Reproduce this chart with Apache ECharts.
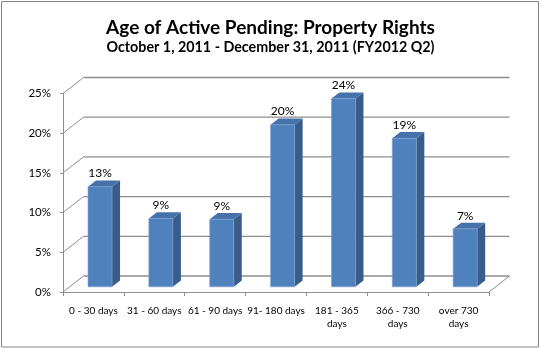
<!DOCTYPE html>
<html>
<head>
<meta charset="utf-8">
<script src="https://cdn.jsdelivr.net/npm/echarts@6/dist/echarts.min.js"></script>
<style>
html,body{margin:0;padding:0;background:#fff;}
#chart{width:541px;height:349px;}
</style>
</head>
<body>
<div id="chart"></div>
<script>
const titleText = 'Age of Active Pending: Property Rights';
const subtitleText = 'October 1, 2011 - December 31, 2011 (FY2012 Q2)';
const categories = ['0 - 30 days', '31 - 60 days', '61 - 90 days', '91- 180 days', '181 - 365\ndays', '366 - 730\ndays', 'over 730\ndays'];
const values = [12.6, 8.6, 8.5, 20.4, 23.7, 18.7, 7.3];
const yTicks = [0, 5, 10, 15, 20, 25];

const FONT = 'Lato, Carlito, "Noto Sans", sans-serif';
// depth geometry (pixels)
const WALL_DX = 20.5, WALL_DY = -16;     // back wall offset
const BAR_DX0 = 6.6, BAR_DY0 = -5.2;     // bar front-face offset
const BAR_DX = 8, BAR_DY = -6.2;         // bar depth
const GRID_COLOR = '#8e8e8e';

const chart = echarts.init(document.getElementById('chart'), null, {renderer: 'canvas'});

const option = {
  backgroundColor: '#fff',
  animation: false,
  title: {
    text: titleText,
    subtext: subtitleText,
    left: 'center',
    top: 13,
    itemGap: 3,
    textStyle: {fontFamily: FONT, fontWeight: 'bold', fontSize: 19, color: '#000'},
    subtextStyle: {fontFamily: FONT, fontWeight: 'bold', fontSize: 14.3, color: '#000'}
  },
  graphic: [{
    type: 'rect',
    shape: {x: 1.5, y: 1.5, width: 537, height: 345.5},
    style: {fill: 'none', stroke: '#868686', lineWidth: 1},
    silent: true, z: -1
  }],
  grid: {left: 63, top: 93.5, width: 426, height: 198.5},
  xAxis: {
    type: 'category',
    data: categories,
    boundaryGap: true,
    axisLine: {lineStyle: {color: GRID_COLOR, width: 1}},
    axisTick: {show: true, length: 4, lineStyle: {color: GRID_COLOR}},
    axisLabel: {
      interval: 0, margin: 12.5, fontFamily: FONT, fontSize: 10, color: '#000', lineHeight: 13
    }
  },
  yAxis: {
    type: 'value',
    min: 0, max: 25, interval: 5,
    axisLine: {show: true, lineStyle: {color: GRID_COLOR, width: 1}},
    axisTick: {show: true, length: 3, lineStyle: {color: GRID_COLOR}},
    splitLine: {show: false},
    axisLabel: {formatter: '{value}%', margin: 12, fontFamily: FONT, fontSize: 11.5, color: '#000'}
  },
  series: [
    {
      type: 'custom',
      name: 'walls',
      silent: true,
      z: 1,
      data: yTicks.map(v => [0, v]),
      renderItem: function (params, api) {
        const cs = params.coordSys;
        const y = api.coord([0, api.value(1)])[1];
        const x0 = cs.x, x1 = cs.x + cs.width;
        const children = [
          {type: 'line', shape: {x1: x0, y1: y, x2: x0 + WALL_DX, y2: y + WALL_DY},
           style: {stroke: GRID_COLOR, lineWidth: 1}},
          {type: 'line', shape: {x1: x0 + WALL_DX, y1: y + WALL_DY, x2: x1 + WALL_DX, y2: y + WALL_DY},
           style: {stroke: GRID_COLOR, lineWidth: 1.3}}
        ];
        if (api.value(1) === 0) {
          children.push({type: 'line', shape: {x1: x1, y1: y, x2: x1 + WALL_DX, y2: y + WALL_DY},
            style: {stroke: GRID_COLOR, lineWidth: 1}});
        }
        return {type: 'group', children: children};
      }
    },
    {
      type: 'custom',
      name: 'Age',
      z: 3,
      data: values.map((v, i) => [i, v]),
      renderItem: function (params, api) {
        const idx = api.value(0), val = api.value(1);
        const base = api.coord([idx, 0]);
        const top = api.coord([idx, val]);
        const w = api.size([1, 0])[0] * 0.395;
        const xl = base[0] - w / 2 + BAR_DX0, xr = base[0] + w / 2 + BAR_DX0;
        const yb = base[1] + BAR_DY0, yt = top[1] + BAR_DY0;
        return {
          type: 'group',
          children: [
            {type: 'polygon', shape: {points: [[xr, yt], [xr + BAR_DX, yt + BAR_DY], [xr + BAR_DX, yb + BAR_DY], [xr, yb]]},
             style: {fill: '#385d8a'}},
            {type: 'polygon', shape: {points: [[xl, yt], [xl + BAR_DX, yt + BAR_DY], [xr + BAR_DX, yt + BAR_DY], [xr, yt]]},
             style: {fill: '#4572aa'}},
            {type: 'rect', shape: {x: xl, y: yt, width: w, height: yb - yt},
             style: {fill: '#4f81bd', stroke: '#7d9fd0', lineWidth: 0.6}},
            {type: 'text', x: (xl + xr) / 2, y: yt + BAR_DY - 1,
             style: {text: Math.round(val) + '%', fontFamily: FONT, fontSize: 12, fill: '#000',
                     align: 'center', verticalAlign: 'bottom'}}
          ]
        };
      }
    }
  ]
};
chart.setOption(option);
</script>
</body>
</html>
